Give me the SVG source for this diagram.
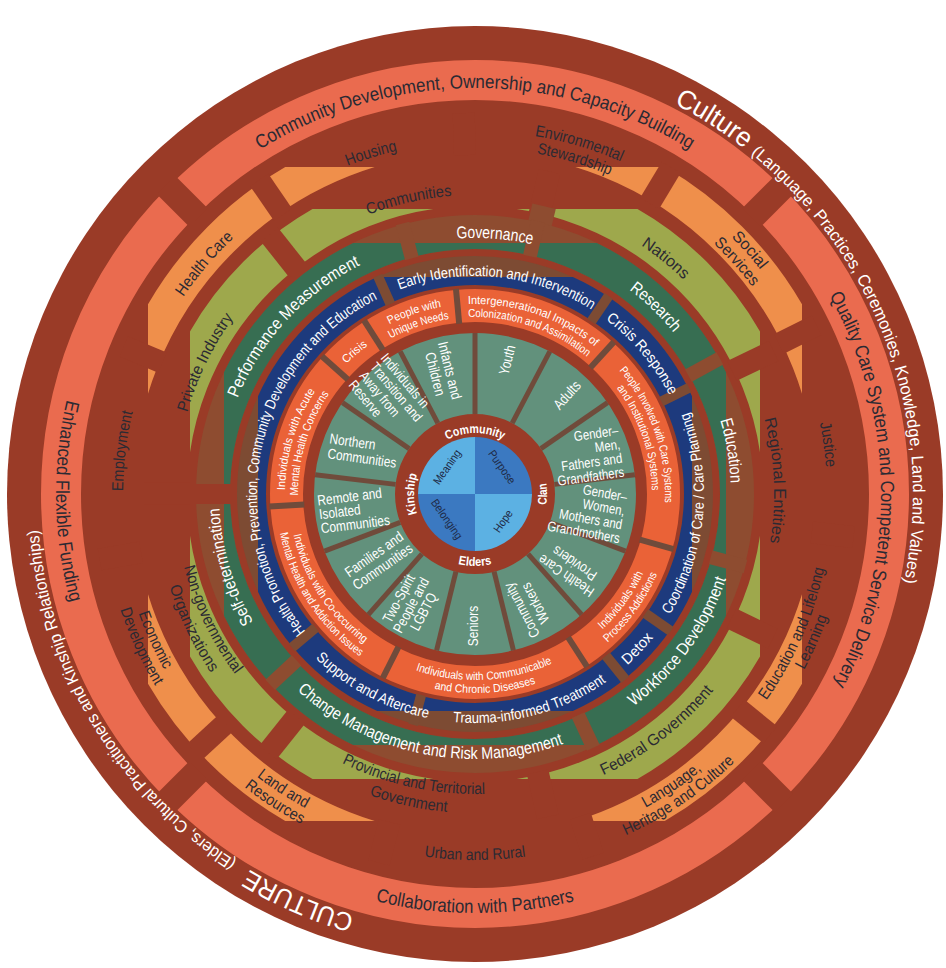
<svg xmlns="http://www.w3.org/2000/svg" width="946" height="968" viewBox="0 0 946 968">
<style>
text{font-family:'Liberation Sans',Arial,sans-serif}
.d{fill:#2b2a33}
.w{fill:#ffffff}
.c{text-anchor:middle}
.e{text-anchor:end}
.s{text-anchor:start}
.rg{fill:none}
.cb{fill:#1f2b47}
</style>
<defs>
<clipPath id="qO"><rect x="148" y="167" width="654" height="654"/></clipPath>
<clipPath id="qL"><rect x="190" y="209" width="570" height="570"/></clipPath>
<clipPath id="qG"><rect x="224" y="243" width="502" height="502"/></clipPath>
<clipPath id="qN"><rect x="258" y="277" width="434" height="434"/></clipPath>
<rect id="gS" x="462" y="57" width="26" height="46" fill="#9a3b27"/>
<rect id="gO" x="464" y="113" width="22" height="42" fill="#9a3b27"/>
<rect id="gL" x="464" y="163" width="22" height="46" fill="#9a3b27"/>
<rect id="gG" x="468" y="214" width="14" height="36" fill="#8e4c30"/>
<rect id="gG2" x="465" y="213" width="20" height="38" fill="#9a3b27"/>
<rect id="gN" x="470" y="255" width="10" height="31" fill="#7d4b33"/>
<rect id="gI" x="472" y="288" width="6" height="35" fill="#704b3b"/>
<rect id="gT" x="472.5" y="333" width="5" height="81" fill="#704b3b"/>
<path id="cw438" d="M475,932A438,438 0 1,1 475,56A438,438 0 1,1 475,932"/>
<path id="cw406" d="M475,900A406,406 0 1,1 475,88A406,406 0 1,1 475,900"/>
<path id="cw352" d="M475,846A352,352 0 1,1 475,142A352,352 0 1,1 475,846"/>
<path id="cw363" d="M475,857A363,363 0 1,1 475,131A363,363 0 1,1 475,857"/>
<path id="cw346" d="M475,840A346,346 0 1,1 475,148A346,346 0 1,1 475,840"/>
<path id="cw299" d="M475,793A299,299 0 1,1 475,195A299,299 0 1,1 475,793"/>
<path id="cw256" d="M475,750A256,256 0 1,1 475,238A256,256 0 1,1 475,750"/>
<path id="cw218" d="M475,712A218,218 0 1,1 475,276A218,218 0 1,1 475,712"/>
<path id="cw190" d="M475,684A190,190 0 1,1 475,304A190,190 0 1,1 475,684"/>
<path id="cw177" d="M475,671A177,177 0 1,1 475,317A177,177 0 1,1 475,671"/>
<path id="cw183" d="M475,677A183,183 0 1,1 475,311A183,183 0 1,1 475,677"/>
<path id="cw61" d="M475,555A61,61 0 1,1 475,433A61,61 0 1,1 475,555"/>
<path id="ccw419" d="M475,75A419,419 0 1,0 475,913A419,419 0 1,0 475,75"/>
<path id="ccw357" d="M475,137A357,357 0 1,0 475,851A357,357 0 1,0 475,137"/>
<path id="ccw373" d="M475,121A373,373 0 1,0 475,867A373,373 0 1,0 475,121"/>
<path id="ccw366" d="M475,128A366,366 0 1,0 475,860A366,366 0 1,0 475,128"/>
<path id="ccw309" d="M475,185A309,309 0 1,0 475,803A309,309 0 1,0 475,185"/>
<path id="ccw300" d="M475,194A300,300 0 1,0 475,794A300,300 0 1,0 475,194"/>
<path id="ccw319" d="M475,175A319,319 0 1,0 475,813A319,319 0 1,0 475,175"/>
<path id="ccw265" d="M475,229A265,265 0 1,0 475,759A265,265 0 1,0 475,229"/>
<path id="ccw229" d="M475,265A229,229 0 1,0 475,723A229,229 0 1,0 475,265"/>
<path id="ccw186" d="M475,308A186,186 0 1,0 475,680A186,186 0 1,0 475,308"/>
<path id="ccw199" d="M475,295A199,199 0 1,0 475,693A199,199 0 1,0 475,295"/>
<path id="ccw72" d="M475,422A72,72 0 1,0 475,566A72,72 0 1,0 475,422"/>
</defs>

<g id="outer-ring">
<circle cx="475" cy="494" r="468" fill="#9a3b27"/>
</g>

<g id="ring-salmon">
<circle class="rg" cx="475" cy="494" r="414" stroke="#ea6b4f" stroke-width="40"/>
<use href="#gS" transform="rotate(45 475 494)"/>
<use href="#gS" transform="rotate(135 475 494)"/>
<use href="#gS" transform="rotate(225 475 494)"/>
<use href="#gS" transform="rotate(315 475 494)"/>
</g>

<g id="ring-orange">
<circle class="rg" cx="475" cy="494" r="360" stroke="#ef8f4b" stroke-width="36" clip-path="url(#qO)"/>
<use href="#gO" transform="rotate(31 475 494)"/>
<use href="#gO" transform="rotate(63.7 475 494)"/>
<use href="#gO" transform="rotate(96.5 475 494)"/>
<use href="#gO" transform="rotate(129.2 475 494)"/>
<use href="#gO" transform="rotate(161.9 475 494)"/>
<use href="#gO" transform="rotate(194.6 475 494)"/>
<use href="#gO" transform="rotate(227.4 475 494)"/>
<use href="#gO" transform="rotate(260.1 475 494)"/>
<use href="#gO" transform="rotate(292.8 475 494)"/>
<use href="#gO" transform="rotate(325.5 475 494)"/>
<use href="#gO" transform="rotate(358.3 475 494)"/>
</g>

<g id="ring-olive">
<circle class="rg" cx="475" cy="494" r="308" stroke="#9ea84c" stroke-width="40" clip-path="url(#qL)"/>
<use href="#gL" transform="rotate(13 475 494)"/>
<use href="#gL" transform="rotate(64.4 475 494)"/>
<use href="#gL" transform="rotate(115.9 475 494)"/>
<use href="#gL" transform="rotate(167.3 475 494)"/>
<use href="#gL" transform="rotate(218.7 475 494)"/>
<use href="#gL" transform="rotate(270.1 475 494)"/>
<use href="#gL" transform="rotate(321.6 475 494)"/>
<rect x="463" y="198" width="24" height="50" fill="#8e4c30" transform="rotate(13.5 475 494)"/>
</g>

<g id="ring-darkgreen">
<circle class="rg" cx="475" cy="494" r="262" stroke="#8e4c30" stroke-width="34"/>
<circle class="rg" cx="475" cy="494" r="262" stroke="#376e52" stroke-width="34" clip-path="url(#qG)"/>
<use href="#gG" transform="rotate(345 475 494)"/>
<use href="#gG" transform="rotate(13 475 494)"/>
<use href="#gG" transform="rotate(61 475 494)"/>
<use href="#gG" transform="rotate(105 475 494)"/>
<use href="#gG" transform="rotate(155 475 494)"/>
<use href="#gG" transform="rotate(227 475 494)"/>
<use href="#gG2" transform="rotate(270 475 494)"/>
</g>

<g id="ring-navy">
<circle class="rg" cx="475" cy="494" r="223.5" stroke="#7d4b33" stroke-width="29"/>
<circle class="rg" cx="475" cy="494" r="223.5" stroke="#1d3a7d" stroke-width="29" clip-path="url(#qN)"/>
<use href="#gN" transform="rotate(336 475 494)"/>
<use href="#gN" transform="rotate(34 475 494)"/>
<use href="#gN" transform="rotate(63.6 475 494)"/>
<use href="#gN" transform="rotate(125 475 494)"/>
<use href="#gN" transform="rotate(141 475 494)"/>
<use href="#gN" transform="rotate(195 475 494)"/>
<use href="#gN" transform="rotate(230 475 494)"/>
</g>

<g id="ring-inner-orange">
<circle class="rg" cx="475" cy="494" r="188.5" stroke="#ea6237" stroke-width="33"/>
<use href="#gI" transform="rotate(266.5 475 494)"/>
<use href="#gI" transform="rotate(312 475 494)"/>
<use href="#gI" transform="rotate(327.4 475 494)"/>
<use href="#gI" transform="rotate(354.7 475 494)"/>
<use href="#gI" transform="rotate(42.4 475 494)"/>
<use href="#gI" transform="rotate(105.5 475 494)"/>
<use href="#gI" transform="rotate(147 475 494)"/>
<use href="#gI" transform="rotate(206.6 475 494)"/>
</g>

<g id="ring-teal">
<circle class="rg" cx="475" cy="494" r="120.5" stroke="#62917c" stroke-width="81"/>
<use href="#gT"/>
<use href="#gT" transform="rotate(27.7 475 494)"/>
<use href="#gT" transform="rotate(55.4 475 494)"/>
<use href="#gT" transform="rotate(83.1 475 494)"/>
<use href="#gT" transform="rotate(110.8 475 494)"/>
<use href="#gT" transform="rotate(138.5 475 494)"/>
<use href="#gT" transform="rotate(166.2 475 494)"/>
<use href="#gT" transform="rotate(193.8 475 494)"/>
<use href="#gT" transform="rotate(221.5 475 494)"/>
<use href="#gT" transform="rotate(249.2 475 494)"/>
<use href="#gT" transform="rotate(276.9 475 494)"/>
<use href="#gT" transform="rotate(304.6 475 494)"/>
<use href="#gT" transform="rotate(332.3 475 494)"/>
</g>

<g id="center">
<path d="M475,494L418,494A57,57 0 0,1 475,437Z" fill="#5cb1e3"/>
<path d="M475,494L475,437A57,57 0 0,1 532,494Z" fill="#3b79c1"/>
<path d="M475,494L532,494A57,57 0 0,1 475,551Z" fill="#5cb1e3"/>
<path d="M475,494L475,551A57,57 0 0,1 418,494Z" fill="#3b79c1"/>
<g transform="translate(447,467) rotate(-55) scale(0.9,1)"><text class="c cb" font-size="11.5" y="4">Meaning</text></g>
<g transform="translate(502,467) rotate(55) scale(0.9,1)"><text class="c cb" font-size="11.5" y="4">Purpose</text></g>
<g transform="translate(447,519) rotate(55) scale(0.9,1)"><text class="c cb" font-size="11.5" y="4">Belonging</text></g>
<g transform="translate(503,521) rotate(-55) scale(0.9,1)"><text class="c cb" font-size="11.5" y="4">Hope</text></g>
</g>

<g id="labels-outer">
<text class="w c" font-size="27"><textPath href="#cw438" startOffset="59.03%" textLength="84" lengthAdjust="spacingAndGlyphs">Culture</textPath></text>
<text class="w c" font-size="17"><textPath href="#cw438" startOffset="69.54%" textLength="479" lengthAdjust="spacingAndGlyphs">(Language, Practices, Ceremonies, Knowledge, Land and Values)</textPath></text>
<text class="w c" font-size="26"><textPath href="#cw438" startOffset="6.53%" textLength="115" lengthAdjust="spacingAndGlyphs">CULTURE</textPath></text>
<text class="w c" font-size="17"><textPath href="#cw438" startOffset="16.43%" textLength="400" lengthAdjust="spacingAndGlyphs">(Elders, Cultural Practitioners and Kinship Relationships)</textPath></text>
</g>

<g id="labels-salmon">
<text class="d c" font-size="19"><textPath href="#cw406" startOffset="50%" textLength="453" lengthAdjust="spacingAndGlyphs">Community Development, Ownership and Capacity Building</textPath></text>
<text class="d c" font-size="19"><textPath href="#cw406" startOffset="74.81%" textLength="405" lengthAdjust="spacingAndGlyphs">Quality Care System and Competent Service Delivery</textPath></text>
<text class="d c" font-size="19"><textPath href="#ccw419" startOffset="50%" textLength="201" lengthAdjust="spacingAndGlyphs">Collaboration with Partners</textPath></text>
<text class="d c" font-size="19"><textPath href="#ccw419" startOffset="25.28%" textLength="205" lengthAdjust="spacingAndGlyphs">Enhanced Flexible Funding</textPath></text>
</g>

<g id="labels-orange">
<text class="d c" font-size="16"><textPath href="#cw352" startOffset="45.28%" textLength="52" lengthAdjust="spacingAndGlyphs">Housing</textPath></text>
<text class="d c" font-size="16"><textPath href="#cw363" startOffset="54.61%" textLength="90" lengthAdjust="spacingAndGlyphs">Environmental</textPath></text>
<text class="d c" font-size="16"><textPath href="#cw346" startOffset="54.61%" textLength="76" lengthAdjust="spacingAndGlyphs">Stewardship</textPath></text>
<text class="d c" font-size="16"><textPath href="#cw363" startOffset="63.44%" textLength="44" lengthAdjust="spacingAndGlyphs">Social</textPath></text>
<text class="d c" font-size="16"><textPath href="#cw346" startOffset="63.44%" textLength="58" lengthAdjust="spacingAndGlyphs">Services</textPath></text>
<text class="d c" font-size="16"><textPath href="#cw352" startOffset="72.78%" textLength="45" lengthAdjust="spacingAndGlyphs">Justice</textPath></text>
<text class="d c" font-size="16"><textPath href="#ccw357" startOffset="68.42%" textLength="145" lengthAdjust="spacingAndGlyphs">Education and Lifelong</textPath></text>
<text class="d c" font-size="16"><textPath href="#ccw373" startOffset="68.42%" textLength="58" lengthAdjust="spacingAndGlyphs">Learning</textPath></text>
<text class="d c" font-size="16"><textPath href="#ccw357" startOffset="59.44%" textLength="68" lengthAdjust="spacingAndGlyphs">Language,</textPath></text>
<text class="d c" font-size="16"><textPath href="#ccw373" startOffset="59.44%" textLength="132" lengthAdjust="spacingAndGlyphs">Heritage and Culture</textPath></text>
<text class="d c" font-size="16"><textPath href="#ccw366" startOffset="50%" textLength="102" lengthAdjust="spacingAndGlyphs">Urban and Rural</textPath></text>
<text class="d c" font-size="16"><textPath href="#ccw357" startOffset="40.83%" textLength="58" lengthAdjust="spacingAndGlyphs">Land and</textPath></text>
<text class="d c" font-size="16"><textPath href="#ccw373" startOffset="40.83%" textLength="68" lengthAdjust="spacingAndGlyphs">Resources</textPath></text>
<text class="d c" font-size="16"><textPath href="#ccw357" startOffset="31.81%" textLength="62" lengthAdjust="spacingAndGlyphs">Economic</textPath></text>
<text class="d c" font-size="16"><textPath href="#ccw373" startOffset="31.81%" textLength="84" lengthAdjust="spacingAndGlyphs">Development</textPath></text>
<text class="d c" font-size="16"><textPath href="#cw352" startOffset="26.94%" textLength="80" lengthAdjust="spacingAndGlyphs">Employment</textPath></text>
<text class="d c" font-size="16"><textPath href="#cw352" startOffset="36.22%" textLength="78" lengthAdjust="spacingAndGlyphs">Health Care</textPath></text>
</g>

<g id="labels-olive">
<text class="d c" font-size="16"><textPath href="#cw299" startOffset="46.47%" textLength="86" lengthAdjust="spacingAndGlyphs">Communities</textPath></text>
<text class="d c" font-size="16"><textPath href="#cw299" startOffset="60.83%" textLength="55" lengthAdjust="spacingAndGlyphs">Nations</textPath></text>
<text class="d c" font-size="16"><textPath href="#cw299" startOffset="74.28%" textLength="125" lengthAdjust="spacingAndGlyphs">Regional Entities</textPath></text>
<text class="d c" font-size="16"><textPath href="#ccw309" startOffset="60.42%" textLength="140" lengthAdjust="spacingAndGlyphs">Federal Government</textPath></text>
<text class="d c" font-size="16"><textPath href="#ccw300" startOffset="46.61%" textLength="148" lengthAdjust="spacingAndGlyphs">Provincial and Territorial</textPath></text>
<text class="d c" font-size="16"><textPath href="#ccw319" startOffset="46.61%" textLength="80" lengthAdjust="spacingAndGlyphs">Government</textPath></text>
<text class="d c" font-size="16"><textPath href="#ccw300" startOffset="32.08%" textLength="120" lengthAdjust="spacingAndGlyphs">Non-governmental</textPath></text>
<text class="d c" font-size="16"><textPath href="#ccw319" startOffset="32.08%" textLength="96" lengthAdjust="spacingAndGlyphs">Organizations</textPath></text>
<text class="d c" font-size="16"><textPath href="#cw299" startOffset="32.22%" textLength="106" lengthAdjust="spacingAndGlyphs">Private Industry</textPath></text>
</g>

<g id="labels-darkgreen">
<text class="w c" font-size="17"><textPath href="#cw256" startOffset="51.22%" textLength="76" lengthAdjust="spacingAndGlyphs">Governance</textPath></text>
<text class="w c" font-size="17"><textPath href="#cw256" startOffset="62.22%" textLength="62" lengthAdjust="spacingAndGlyphs">Research</textPath></text>
<text class="w c" font-size="17"><textPath href="#cw256" startOffset="72.33%" textLength="64" lengthAdjust="spacingAndGlyphs">Education</textPath></text>
<text class="w c" font-size="17"><textPath href="#ccw265" startOffset="65%" textLength="160" lengthAdjust="spacingAndGlyphs">Workforce Development</textPath></text>
<text class="w c" font-size="17"><textPath href="#ccw265" startOffset="46.86%" textLength="285" lengthAdjust="spacingAndGlyphs">Change Management and Risk Management</textPath></text>
<text class="w c" font-size="17"><textPath href="#cw256" startOffset="20.39%" textLength="120" lengthAdjust="spacingAndGlyphs">Self-determination</textPath></text>
<text class="w c" font-size="17"><textPath href="#cw256" startOffset="36.86%" textLength="185" lengthAdjust="spacingAndGlyphs">Performance Measurement</textPath></text>
</g>

<g id="labels-navy">
<text class="w c" font-size="15"><textPath href="#cw218" startOffset="28.39%" textLength="390" lengthAdjust="spacingAndGlyphs">Health Promotion, Prevention, Community Development and Education</textPath></text>
<text class="w c" font-size="15"><textPath href="#cw218" startOffset="51.67%" textLength="200" lengthAdjust="spacingAndGlyphs">Early Identification and Intervention</textPath></text>
<text class="w c" font-size="15"><textPath href="#cw218" startOffset="63.89%" textLength="100" lengthAdjust="spacingAndGlyphs">Crisis Response</textPath></text>
<text class="w c" font-size="15"><textPath href="#ccw229" startOffset="73.5%" textLength="211" lengthAdjust="spacingAndGlyphs">Coordination of Care / Care Planning</textPath></text>
<text class="w c" font-size="15"><textPath href="#ccw229" startOffset="62.89%" textLength="38" lengthAdjust="spacingAndGlyphs">Detox</textPath></text>
<text class="w c" font-size="15"><textPath href="#ccw229" startOffset="54.08%" textLength="162" lengthAdjust="spacingAndGlyphs">Trauma-informed Treatment</textPath></text>
<text class="w c" font-size="15"><textPath href="#ccw229" startOffset="42.22%" textLength="129" lengthAdjust="spacingAndGlyphs">Support and Aftercare</textPath></text>
</g>

<g id="labels-inner-orange">
<text class="w c" font-size="11.5"><textPath href="#cw183" startOffset="38.81%" textLength="28" lengthAdjust="spacingAndGlyphs">Crisis</textPath></text>
<text class="w c" font-size="11.5"><textPath href="#cw190" startOffset="44.86%" textLength="55" lengthAdjust="spacingAndGlyphs">People with</textPath></text>
<text class="w c" font-size="11.5"><textPath href="#cw177" startOffset="44.86%" textLength="62" lengthAdjust="spacingAndGlyphs">Unique Needs</textPath></text>
<text class="w c" font-size="11.5"><textPath href="#cw190" startOffset="55.14%" textLength="137" lengthAdjust="spacingAndGlyphs">Intergenerational Impacts of</textPath></text>
<text class="w c" font-size="11.5"><textPath href="#cw177" startOffset="55.14%" textLength="128" lengthAdjust="spacingAndGlyphs">Colonization and Assimilation</textPath></text>
<text class="w c" font-size="11.5"><textPath href="#cw190" startOffset="69.72%" textLength="143" lengthAdjust="spacingAndGlyphs">People Involved with Care Systems</textPath></text>
<text class="w c" font-size="11.5"><textPath href="#cw177" startOffset="69.72%" textLength="110" lengthAdjust="spacingAndGlyphs">and Institutional Systems</textPath></text>
<text class="w c" font-size="11.5"><textPath href="#ccw186" startOffset="65%" textLength="70" lengthAdjust="spacingAndGlyphs">Individuals with</textPath></text>
<text class="w c" font-size="11.5"><textPath href="#ccw199" startOffset="65%" textLength="85" lengthAdjust="spacingAndGlyphs">Process Addictions</textPath></text>
<text class="w c" font-size="11.5"><textPath href="#ccw186" startOffset="50.83%" textLength="140" lengthAdjust="spacingAndGlyphs">Individuals with Communicable</textPath></text>
<text class="w c" font-size="11.5"><textPath href="#ccw199" startOffset="50.83%" textLength="103" lengthAdjust="spacingAndGlyphs">and Chronic Diseases</textPath></text>
<text class="w c" font-size="11.5"><textPath href="#ccw186" startOffset="34.17%" textLength="132" lengthAdjust="spacingAndGlyphs">Individuals with Co-occurring</textPath></text>
<text class="w c" font-size="11.5"><textPath href="#ccw199" startOffset="34.17%" textLength="150" lengthAdjust="spacingAndGlyphs">Mental Health and Addiction Issues</textPath></text>
<text class="w c" font-size="11.5"><textPath href="#cw190" startOffset="29.72%" textLength="105" lengthAdjust="spacingAndGlyphs">Individuals with Acute</textPath></text>
<text class="w c" font-size="11.5"><textPath href="#cw177" startOffset="29.72%" textLength="108" lengthAdjust="spacingAndGlyphs">Mental Health Concerns</textPath></text>
</g>

<g id="labels-teal">
<g transform="translate(443,372) rotate(76) scale(0.82,1)"><text class="w c" font-size="14.5"><tspan x="0" y="-2">Infants and</tspan><tspan x="0" y="13">Children</tspan></text></g>
<g transform="translate(507,360) rotate(-76) scale(0.82,1)"><text class="w c" font-size="14.5" y="5">Youth</text></g>
<g transform="translate(567,395) rotate(-48) scale(0.82,1)"><text class="w c" font-size="14.5" y="5">Adults</text></g>
<g transform="translate(591,455) rotate(-8) scale(0.82,1)"><text class="w e" font-size="14"><tspan x="37" y="-16">Gender–</tspan><tspan x="37" y="-2">Men,</tspan><tspan x="37" y="12">Fathers and</tspan><tspan x="37" y="26">Grandfathers</tspan></text></g>
<g transform="translate(592,512) rotate(10) scale(0.82,1)"><text class="w e" font-size="14"><tspan x="39" y="-16">Gender–</tspan><tspan x="39" y="-2">Women,</tspan><tspan x="39" y="12">Mothers and</tspan><tspan x="39" y="26">Grandmothers</tspan></text></g>
<g transform="translate(570,570) rotate(214) scale(0.82,1)"><text class="w c" font-size="14.5"><tspan x="0" y="-2">Health Care</tspan><tspan x="0" y="13">Providers</tspan></text></g>
<g transform="translate(528,607) rotate(242) scale(0.82,1)"><text class="w c" font-size="14.5"><tspan x="0" y="-2">Community</tspan><tspan x="0" y="13">Workers</tspan></text></g>
<g transform="translate(473,626) rotate(-90) scale(0.82,1)"><text class="w c" font-size="14.5" y="5">Seniors</text></g>
<g transform="translate(411,605) rotate(-62) scale(0.82,1)"><text class="w c" font-size="14.5"><tspan x="0" y="-9">Two-Spirit</tspan><tspan x="0" y="5">People and</tspan><tspan x="0" y="19">LGBTQ</tspan></text></g>
<g transform="translate(378,560) rotate(-35) scale(0.82,1)"><text class="w c" font-size="14.5"><tspan x="0" y="-2">Families and</tspan><tspan x="0" y="13">Communities</tspan></text></g>
<g transform="translate(355,510) rotate(-7) scale(0.82,1)"><text class="w s" font-size="14.5"><tspan x="-44" y="-9">Remote and</tspan><tspan x="-44" y="5">Isolated</tspan><tspan x="-44" y="19">Communities</tspan></text></g>
<g transform="translate(362,450) rotate(8) scale(0.82,1)"><text class="w s" font-size="14.5"><tspan x="-41" y="-2">Northern</tspan><tspan x="-41" y="13">Communities</tspan></text></g>
<g transform="translate(390,395) rotate(50) scale(0.82,1)"><text class="w s" font-size="14"><tspan x="-42" y="-16">Individuals in</tspan><tspan x="-42" y="-2">Transition and</tspan><tspan x="-42" y="12">Away from</tspan><tspan x="-42" y="26">Reserve</tspan></text></g>
</g>

<g id="labels-inner">
<text class="w c" font-size="12.5" font-weight="bold"><textPath href="#cw61" startOffset="50%" textLength="58" lengthAdjust="spacingAndGlyphs">Community</textPath></text>
<text class="w c" font-size="12.5" font-weight="bold"><textPath href="#ccw72" startOffset="75%" textLength="22" lengthAdjust="spacingAndGlyphs">Clan</textPath></text>
<text class="w c" font-size="12.5" font-weight="bold"><textPath href="#ccw72" startOffset="50%" textLength="34" lengthAdjust="spacingAndGlyphs">Elders</textPath></text>
<text class="w c" font-size="12.5" font-weight="bold"><textPath href="#cw61" startOffset="25%" textLength="40" lengthAdjust="spacingAndGlyphs">Kinship</textPath></text>
</g>
</svg>
